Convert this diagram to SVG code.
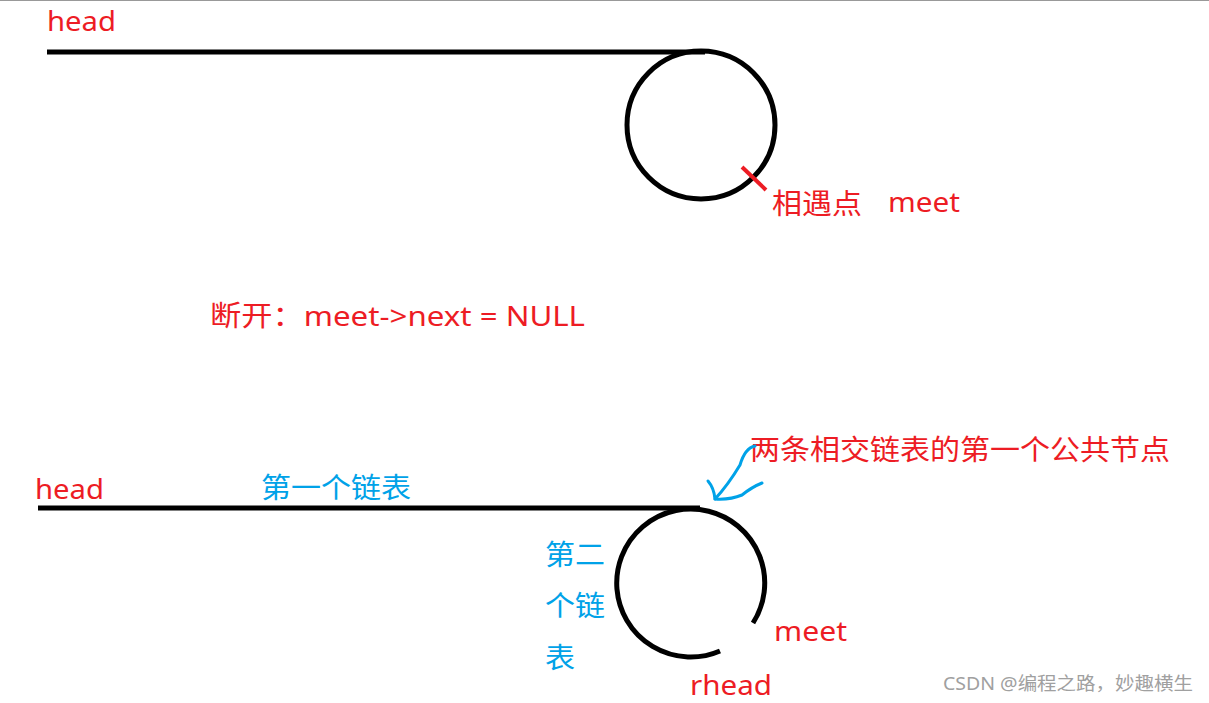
<svg xmlns="http://www.w3.org/2000/svg" width="1209" height="703" viewBox="0 0 1209 703">
<style>
.r{fill:#ed1c24;font-family:"Microsoft YaHei","Noto Sans","Noto Sans CJK SC",sans-serif;font-size:28px}
.b{fill:#00a2e8;font-family:"Noto Sans","Noto Sans CJK SC",sans-serif;font-size:28px}
.k{fill:none;stroke:#000;stroke-width:5}
</style>
<rect width="1209" height="703" fill="#fff"/>
<line x1="0" y1="0.5" x2="1209" y2="0.5" stroke="#999" stroke-width="1"/>
<g id="top">
<line class="k" x1="47" y1="52" x2="705" y2="52"/>
<circle class="k" cx="701" cy="125" r="74"/>
<line x1="742" y1="167" x2="766" y2="190" stroke="#ed1c24" stroke-width="4"/>
<text class="r" x="47" y="31" textLength="69" lengthAdjust="spacingAndGlyphs">head</text>
<text class="r" x="772" y="214" textLength="90" lengthAdjust="spacingAndGlyphs">相遇点</text>
<text class="r" x="888" y="212" textLength="72" lengthAdjust="spacingAndGlyphs">meet</text>
</g>
<text class="r" x="210" y="326" textLength="375" lengthAdjust="spacingAndGlyphs">断开：meet-&gt;next = NULL</text>
<g id="bottom">
<line class="k" x1="38" y1="508" x2="700" y2="508"/>
<path class="k" d="M753,623 A74,74 0 1 0 720,651"/>
<text class="r" x="35" y="499" textLength="69" lengthAdjust="spacingAndGlyphs">head</text>
<text class="b" x="261" y="498" textLength="150" lengthAdjust="spacingAndGlyphs">第一个链表</text>
<text class="b" x="545" y="565" textLength="60" lengthAdjust="spacingAndGlyphs">第二</text>
<text class="b" x="545" y="616" textLength="60" lengthAdjust="spacingAndGlyphs">个链</text>
<text class="b" x="545" y="668" textLength="30" lengthAdjust="spacingAndGlyphs">表</text>
<text class="r" x="774" y="641" textLength="73" lengthAdjust="spacingAndGlyphs">meet</text>
<text class="r" x="690" y="695" textLength="82" lengthAdjust="spacingAndGlyphs">rhead</text>
<text class="r" x="750" y="460" textLength="420" lengthAdjust="spacingAndGlyphs">两条相交链表的第一个公共节点</text>
</g>
<g id="connectors" fill="none" stroke="#00a2e8" stroke-width="3" stroke-linecap="round" stroke-linejoin="round">
<path d="M755,446 Q745,448 740,465 Q728,485 715,499 Q714,488 708,481"/>
<path d="M715,499 Q730,500 742,495 Q752,487 762,483"/>
</g>
<text x="943" y="690" fill="#a0a0a0" font-family="Noto Sans,Noto Sans CJK SC,sans-serif" font-size="18" textLength="250" lengthAdjust="spacingAndGlyphs">CSDN @编程之路，妙趣横生</text>
</svg>
